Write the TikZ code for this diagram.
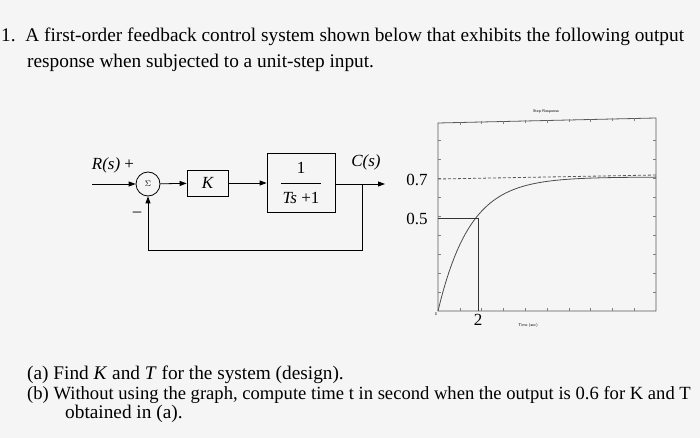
\documentclass[tikz,border=0pt]{standalone}
\usepackage{fontspec}
\setmainfont{Liberation Serif}
\usetikzlibrary{arrows.meta}
\begin{document}
\begin{tikzpicture}[x=1pt,y=-1pt,
  txt/.style={anchor=west,inner sep=0pt,font=\fontsize{19.3}{21}\selectfont},
  blk/.style={draw,thick,inner sep=0pt},
  lab/.style={inner sep=0pt,font=\fontsize{17}{18}\selectfont},
  sig/.style={thick,-{Triangle[length=7pt,width=5pt]}},
  tiny/.style={inner sep=0pt,font=\fontsize{4}{5}\selectfont\sffamily}]
\useasboundingbox (0,0) rectangle (700,438);
\fill[gray!8] (0,0) rectangle (700,438);
\node[txt] (l1) at (1,37) {1.\ \ A first-order feedback control system shown below that exhibits the following output};
\node[txt] (l2) at (27,63) {response when subjected to a unit-step input.};
\node[txt] (a) at (27,375) {(a) Find \textit{K} and \textit{T} for the system (design).};
\node[txt,font=\fontsize{18.6}{20}\selectfont] (b) at (27,395) {(b) Without using the graph, compute time t in second when the output is 0.6 for K and T};
\node[txt] (b2) at (65,414) {obtained in (a).};
% block diagram
\coordinate (in) at (92,184);
\node[draw,thick,circle,minimum size=24pt,inner sep=0pt,font=\footnotesize] (sum) at (148,184) {$\Sigma$};
\node[blk,minimum width=41pt,minimum height=26pt] (K) at (207.5,183) {\fontsize{17}{18}\selectfont\itshape K};
\node[blk,minimum width=68pt,minimum height=59pt] (G) at (301,182.5) {};
\node[lab] (num) at (301,168) {1};
\node[lab] (den) at (301,198) {\textit{Ts} +1};
\draw (281,183) -- (321,183);
\coordinate (out) at (385,184);
\coordinate (br) at (362,184);
\coordinate (fb1) at (362,250);
\coordinate (fb2) at (148,250);
\draw[sig] (in) -- (sum);
\draw[sig] (sum) -- (K);
\draw[sig] (K) -- (G.west|-K);
\draw[sig] (G.east|-out) -- (out);
\draw[sig] (br) -- (fb1) -- (fb2) -- (sum);
\node[lab] (rs) at (113,165) {\itshape R(s) \upshape+};
\node[lab] (cs) at (366,162) {\itshape C(s)};
\node[lab] (mn) at (137,214) {–};
% plot
\draw[thick,gray!70!black] (438,123) -- (656,118) -- (656,311) -- (438,311) -- cycle;
\foreach \i in {1,...,9}{\draw[gray] (438+21.8*\i,311) -- +(0,-3); \draw[gray] (438+21.8*\i,122.5-0.5*\i) -- +(0,3);}
\foreach \i in {1,...,9}{\draw[gray] (438,311-19*\i) -- +(3,0); \draw[gray] (656,311-19*\i) -- +(-3,0);}
\draw[densely dashed,thick,gray!70!black] (438,179) -- (656,175);
\draw[thick,gray!60!black,domain=0:218,samples=80] plot ({438+\x},{311-134*(1-exp(-\x/31.9))});
\draw[thick,gray!40!black] (438,218) -- (478,218) -- (478,311);
\node[lab] (t7) at (417,180) {0.7};
\node[lab] (t5) at (417,219) {0.5};
\node[lab] (t2) at (478,320) {2};
\node[tiny] (t0) at (436,314) {0};
\node[tiny] (st) at (546,111) {Step Response};
\node[tiny] (tm) at (528,325) {Time (sec)};
\end{tikzpicture}
\end{document}
